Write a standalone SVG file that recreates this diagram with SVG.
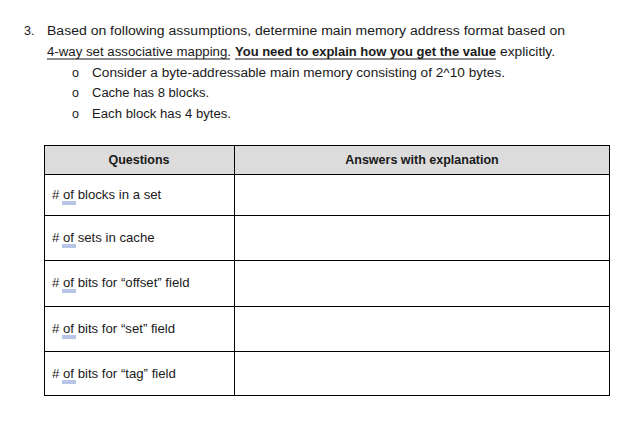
<svg xmlns="http://www.w3.org/2000/svg" width="638" height="435" viewBox="0 0 638 435">
<style>
text{font-family:"Liberation Sans",Arial,sans-serif;font-size:12.5px;fill:#1a1a1a}
.c{font-size:13.2px}
.b{font-weight:bold}
.cell{fill:none;stroke:#000;stroke-width:1}
.u{stroke:#1a1a1a;stroke-width:1}
.g{stroke:#4a6fc0;stroke-width:0.8}
</style>
<rect width="638" height="435" fill="#fff"/>
<g id="question">
<text x="24" y="35">3.</text>
<text x="47" y="35" textLength="518" lengthAdjust="spacingAndGlyphs">Based on following assumptions, determine main memory address format based on</text>
<text x="47" y="56" textLength="184" lengthAdjust="spacingAndGlyphs">4-way set associative mapping.</text>
<line class="u" x1="47" y1="59" x2="230" y2="59"/>
<text x="235" y="56" class="b" textLength="261" lengthAdjust="spacingAndGlyphs">You need to explain how you get the value</text>
<line class="u" x1="235" y1="59" x2="496" y2="59"/>
<text x="500" y="56" textLength="55" lengthAdjust="spacingAndGlyphs">explicitly.</text>
<text x="72" y="77">o</text><text x="92" y="77" textLength="413" lengthAdjust="spacingAndGlyphs">Consider a byte-addressable main memory consisting of 2^10 bytes.</text>
<text x="72" y="97">o</text><text x="92" y="97" textLength="117" lengthAdjust="spacingAndGlyphs">Cache has 8 blocks.</text>
<text x="72" y="118">o</text><text x="92" y="118" textLength="139" lengthAdjust="spacingAndGlyphs">Each block has 4 bytes.</text>
</g>
<g id="table">
<rect x="44" y="145" width="565" height="29" fill="#dcdcdc"/>
<rect class="cell" x="44.5" y="145.5" width="565" height="250"/>
<line class="cell" x1="234.5" y1="145" x2="234.5" y2="396"/>
<line class="cell" x1="44" y1="174.5" x2="610" y2="174.5"/>
<line class="cell" x1="44" y1="215.5" x2="610" y2="215.5"/>
<line class="cell" x1="44" y1="260.5" x2="610" y2="260.5"/>
<line class="cell" x1="44" y1="306.5" x2="610" y2="306.5"/>
<line class="cell" x1="44" y1="351.5" x2="610" y2="351.5"/>
<text x="139" y="164" class="b" text-anchor="middle">Questions</text>
<text x="422" y="164" class="b" text-anchor="middle">Answers with explanation</text>
<text x="52" y="199" class="c"># of blocks in a set</text>
<text x="52" y="242" class="c"># of sets in cache</text>
<text x="52" y="287" class="c"># of bits for “offset” field</text>
<text x="52" y="333" class="c"># of bits for “set” field</text>
<text x="52" y="378" class="c"># of bits for “tag” field</text>
<g>
<line class="g" x1="62" y1="202" x2="76" y2="202"/><line class="g" x1="62" y1="204" x2="76" y2="204"/>
<line class="g" x1="62" y1="245" x2="76" y2="245"/><line class="g" x1="62" y1="247" x2="76" y2="247"/>
<line class="g" x1="62" y1="290" x2="76" y2="290"/><line class="g" x1="62" y1="292" x2="76" y2="292"/>
<line class="g" x1="62" y1="336" x2="76" y2="336"/><line class="g" x1="62" y1="338" x2="76" y2="338"/>
<line class="g" x1="62" y1="381" x2="76" y2="381"/><line class="g" x1="62" y1="383" x2="76" y2="383"/>
</g>
</g>
</svg>
